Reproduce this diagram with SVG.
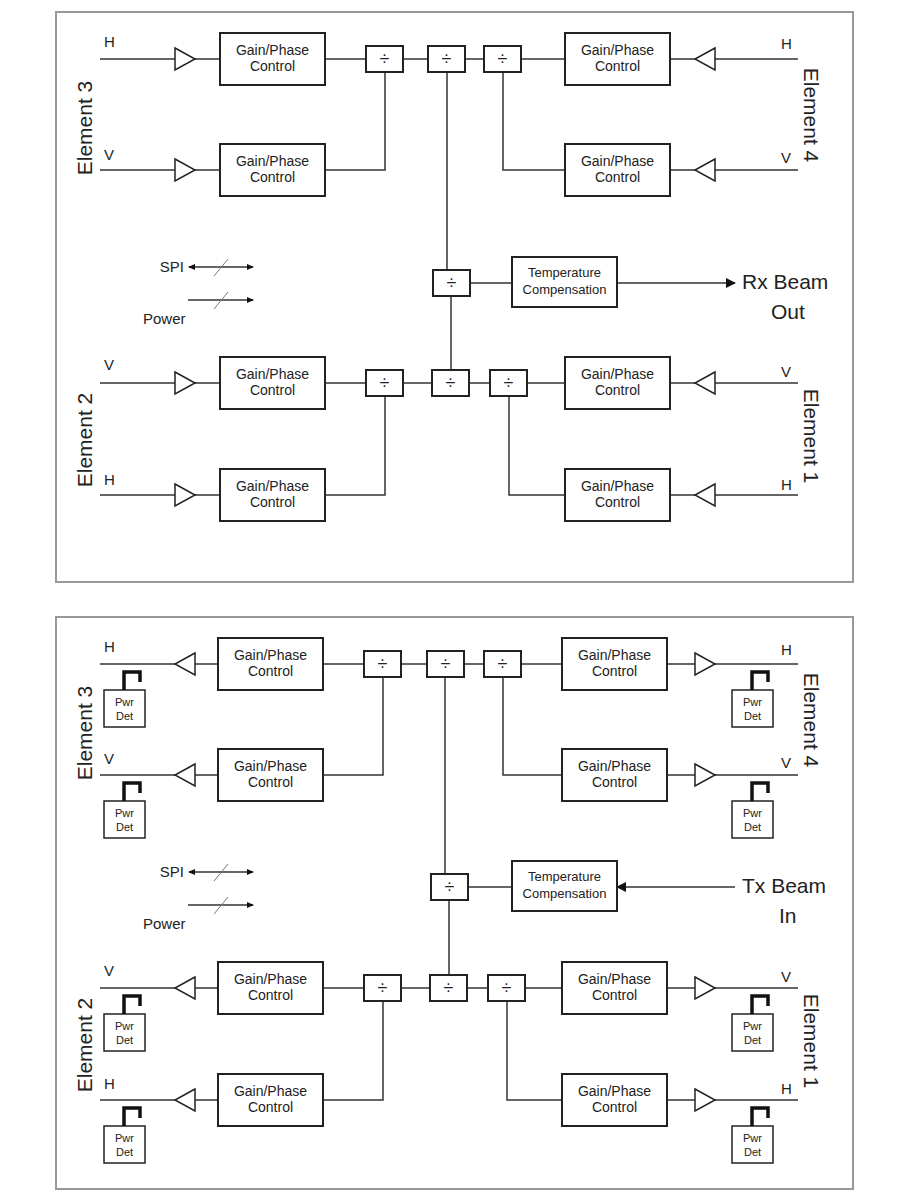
<svg xmlns="http://www.w3.org/2000/svg" width="898" height="1200" viewBox="0 0 898 1200">
<defs>
<style>
.f{fill:none;stroke:#999;stroke-width:2}
.b{fill:#fff;stroke:#222;stroke-width:2}
.l{fill:none;stroke:#333;stroke-width:1.5}
.t{font-family:"Liberation Sans",Arial,sans-serif;fill:#222}
.g{font-size:14px;text-anchor:middle}
.d{font-size:18px;text-anchor:middle}
.big{font-size:21px}
.s{font-size:15px}
.p{font-size:11px;text-anchor:middle}
.k{fill:none;stroke:#111;stroke-width:3.5}
</style>
<marker id="ah" markerWidth="10" markerHeight="10" refX="9" refY="5" orient="auto" markerUnits="userSpaceOnUse"><path d="M0,0 L10,5 L0,10 z" fill="#111"/></marker>
<marker id="sa" markerWidth="7" markerHeight="6" refX="6" refY="3" orient="auto-start-reverse" markerUnits="userSpaceOnUse"><path d="M0,0 L7,3 L0,6 z" fill="#111"/></marker>
<g id="gpc"><rect class="b" width="105" height="52"/><text class="t g" x="52.5" y="22">Gain/Phase</text><text class="t g" x="52.5" y="38">Control</text></g>
<g id="div"><rect class="b" width="37" height="26"/><text class="t d" x="18.5" y="19">÷</text></g>
<g id="pd"><rect class="b" width="41" height="37" style="stroke-width:1.5"/><text class="t p" x="20.5" y="16">Pwr</text><text class="t p" x="20.5" y="30">Det</text><path class="k" d="M20,0 V-18 H36 V-8"/></g>
</defs>
<rect width="898" height="1200" fill="#fff"/>
<rect class="f" x="56" y="12" width="797" height="570"/>
<rect class="f" x="56" y="617" width="797" height="572"/>

<!-- TOP PANEL -->
<g id="connectors-top">
<path class="l" d="M100,59 H220 M326,59 H366 M403,59 H428 M465,59 H484 M521,59 H565 M670,59 H798"/>
<path class="l" d="M100,170 H220 M326,170 H385 V72 M503,72 V170 H565 M670,170 H798"/>
<path class="l" d="M100,383 H220 M326,383 H366 M403,383 H432 M469,383 H490 M527,383 H565 M670,383 H798"/>
<path class="l" d="M100,495 H220 M326,495 H385 V396 M509,396 V495 H565 M670,495 H798"/>
<path class="l" d="M447,72 V270 M451,296 V370 M469,283 H512"/>
<path class="l" d="M617,283 H735" marker-end="url(#ah)"/>
<path class="l" d="M189,267 H253" marker-start="url(#sa)" marker-end="url(#sa)"/>
<path class="l" d="M188,300 H253" marker-end="url(#sa)"/>
<path d="M214,276 L228,259 M214,309 L228,292" stroke="#777" stroke-width="1"/>
</g>
<g id="amps-top" class="b" style="stroke-width:1.5">
<path d="M175,48 L195,59 L175,70 z"/><path d="M175,159 L195,170 L175,181 z"/>
<path d="M175,372 L195,383 L175,394 z"/><path d="M175,484 L195,495 L175,506 z"/>
<path d="M715,48 L695,59 L715,70 z"/><path d="M715,159 L695,170 L715,181 z"/>
<path d="M715,372 L695,383 L715,394 z"/><path d="M715,484 L695,495 L715,506 z"/>
</g>
<g id="gpc-t1"><use href="#gpc" x="220" y="33"/></g>
<g id="gpc-t2"><use href="#gpc" x="220" y="144"/></g>
<g id="gpc-t3"><use href="#gpc" x="565" y="33"/></g>
<g id="gpc-t4"><use href="#gpc" x="565" y="144"/></g>
<g id="gpc-t5"><use href="#gpc" x="220" y="357"/></g>
<g id="gpc-t6"><use href="#gpc" x="220" y="469"/></g>
<g id="gpc-t7"><use href="#gpc" x="565" y="357"/></g>
<g id="gpc-t8"><use href="#gpc" x="565" y="469"/></g>
<g id="div-t"><use href="#div" x="366" y="46"/><use href="#div" x="428" y="46"/><use href="#div" x="484" y="46"/><use href="#div" x="433" y="270"/><use href="#div" x="366" y="370"/><use href="#div" x="432" y="370"/><use href="#div" x="490" y="370"/></g>
<g id="temp-t"><rect class="b" x="512" y="257" width="105" height="50"/><text class="t g" x="564.5" y="277" style="font-size:13px">Temperature</text><text class="t g" x="564.5" y="294" style="font-size:13px">Compensation</text></g>
<g id="labels-top" class="t">
<text class="s" x="104" y="47">H</text><text class="s" x="104" y="160">V</text>
<text class="s" x="104" y="370">V</text><text class="s" x="104" y="485">H</text>
<text class="s" x="781" y="49">H</text><text class="s" x="781" y="163">V</text>
<text class="s" x="781" y="377">V</text><text class="s" x="781" y="490">H</text>
<text class="big" transform="translate(92,128) rotate(-90)" text-anchor="middle">Element 3</text>
<text class="big" transform="translate(92,440) rotate(-90)" text-anchor="middle">Element 2</text>
<text class="big" transform="translate(804,115) rotate(90)" text-anchor="middle">Element 4</text>
<text class="big" transform="translate(804,436) rotate(90)" text-anchor="middle">Element 1</text>
<text class="s" x="184" y="272" text-anchor="end">SPI</text>
<text class="s" x="143" y="324">Power</text>
<text class="big" x="742" y="289">Rx Beam</text>
<text class="big" x="771" y="319">Out</text>
</g>

<!-- BOTTOM PANEL -->
<g id="connectors-bottom">
<path class="l" d="M100,664 H218 M324,664 H364 M401,664 H427 M463,664 H484 M521,664 H562 M668,664 H798"/>
<path class="l" d="M100,775 H218 M324,775 H383 V677 M503,677 V775 H562 M668,775 H798"/>
<path class="l" d="M100,988 H218 M324,988 H364 M401,988 H430 M467,988 H488 M525,988 H562 M668,988 H798"/>
<path class="l" d="M100,1100 H218 M324,1100 H383 V1001 M507,1001 V1100 H562 M668,1100 H798"/>
<path class="l" d="M445,677 V874 M449,900 V975 M467,887 H512"/>
<path class="l" d="M735,887 H617" marker-end="url(#ah)"/>
<path class="l" d="M189,872 H253" marker-start="url(#sa)" marker-end="url(#sa)"/>
<path class="l" d="M188,905 H253" marker-end="url(#sa)"/>
<path d="M214,881 L228,864 M214,914 L228,897" stroke="#777" stroke-width="1"/>
</g>
<g id="amps-bottom" class="b" style="stroke-width:1.5">
<path d="M195,653 L175,664 L195,675 z"/><path d="M195,764 L175,775 L195,786 z"/>
<path d="M195,977 L175,988 L195,999 z"/><path d="M195,1089 L175,1100 L195,1111 z"/>
<path d="M695,653 L715,664 L695,675 z"/><path d="M695,764 L715,775 L695,786 z"/>
<path d="M695,977 L715,988 L695,999 z"/><path d="M695,1089 L715,1100 L695,1111 z"/>
</g>
<g id="pwr-det">
<use href="#pd" x="104" y="690"/><use href="#pd" x="104" y="801"/><use href="#pd" x="104" y="1014"/><use href="#pd" x="104" y="1126"/>
<use href="#pd" x="732" y="690"/><use href="#pd" x="732" y="801"/><use href="#pd" x="732" y="1014"/><use href="#pd" x="732" y="1126"/>
</g>
<g id="gpc-b1"><use href="#gpc" x="218" y="638"/></g>
<g id="gpc-b2"><use href="#gpc" x="218" y="749"/></g>
<g id="gpc-b3"><use href="#gpc" x="562" y="638"/></g>
<g id="gpc-b4"><use href="#gpc" x="562" y="749"/></g>
<g id="gpc-b5"><use href="#gpc" x="218" y="962"/></g>
<g id="gpc-b6"><use href="#gpc" x="218" y="1074"/></g>
<g id="gpc-b7"><use href="#gpc" x="562" y="962"/></g>
<g id="gpc-b8"><use href="#gpc" x="562" y="1074"/></g>
<g id="div-b"><use href="#div" x="364" y="651"/><use href="#div" x="427" y="651"/><use href="#div" x="484" y="651"/><use href="#div" x="431" y="874"/><use href="#div" x="364" y="975"/><use href="#div" x="430" y="975"/><use href="#div" x="488" y="975"/></g>
<g id="temp-b"><rect class="b" x="512" y="861" width="105" height="50"/><text class="t g" x="564.5" y="881" style="font-size:13px">Temperature</text><text class="t g" x="564.5" y="898" style="font-size:13px">Compensation</text></g>
<g id="labels-bottom" class="t">
<text class="s" x="104" y="652">H</text><text class="s" x="104" y="764">V</text>
<text class="s" x="104" y="976">V</text><text class="s" x="104" y="1089">H</text>
<text class="s" x="781" y="655">H</text><text class="s" x="781" y="768">V</text>
<text class="s" x="781" y="982">V</text><text class="s" x="781" y="1094">H</text>
<text class="big" transform="translate(92,733) rotate(-90)" text-anchor="middle">Element 3</text>
<text class="big" transform="translate(92,1045) rotate(-90)" text-anchor="middle">Element 2</text>
<text class="big" transform="translate(804,720) rotate(90)" text-anchor="middle">Element 4</text>
<text class="big" transform="translate(804,1041) rotate(90)" text-anchor="middle">Element 1</text>
<text class="s" x="184" y="877" text-anchor="end">SPI</text>
<text class="s" x="143" y="929">Power</text>
<text class="big" x="742" y="893">Tx Beam</text>
<text class="big" x="779" y="923">In</text>
</g>
</svg>
